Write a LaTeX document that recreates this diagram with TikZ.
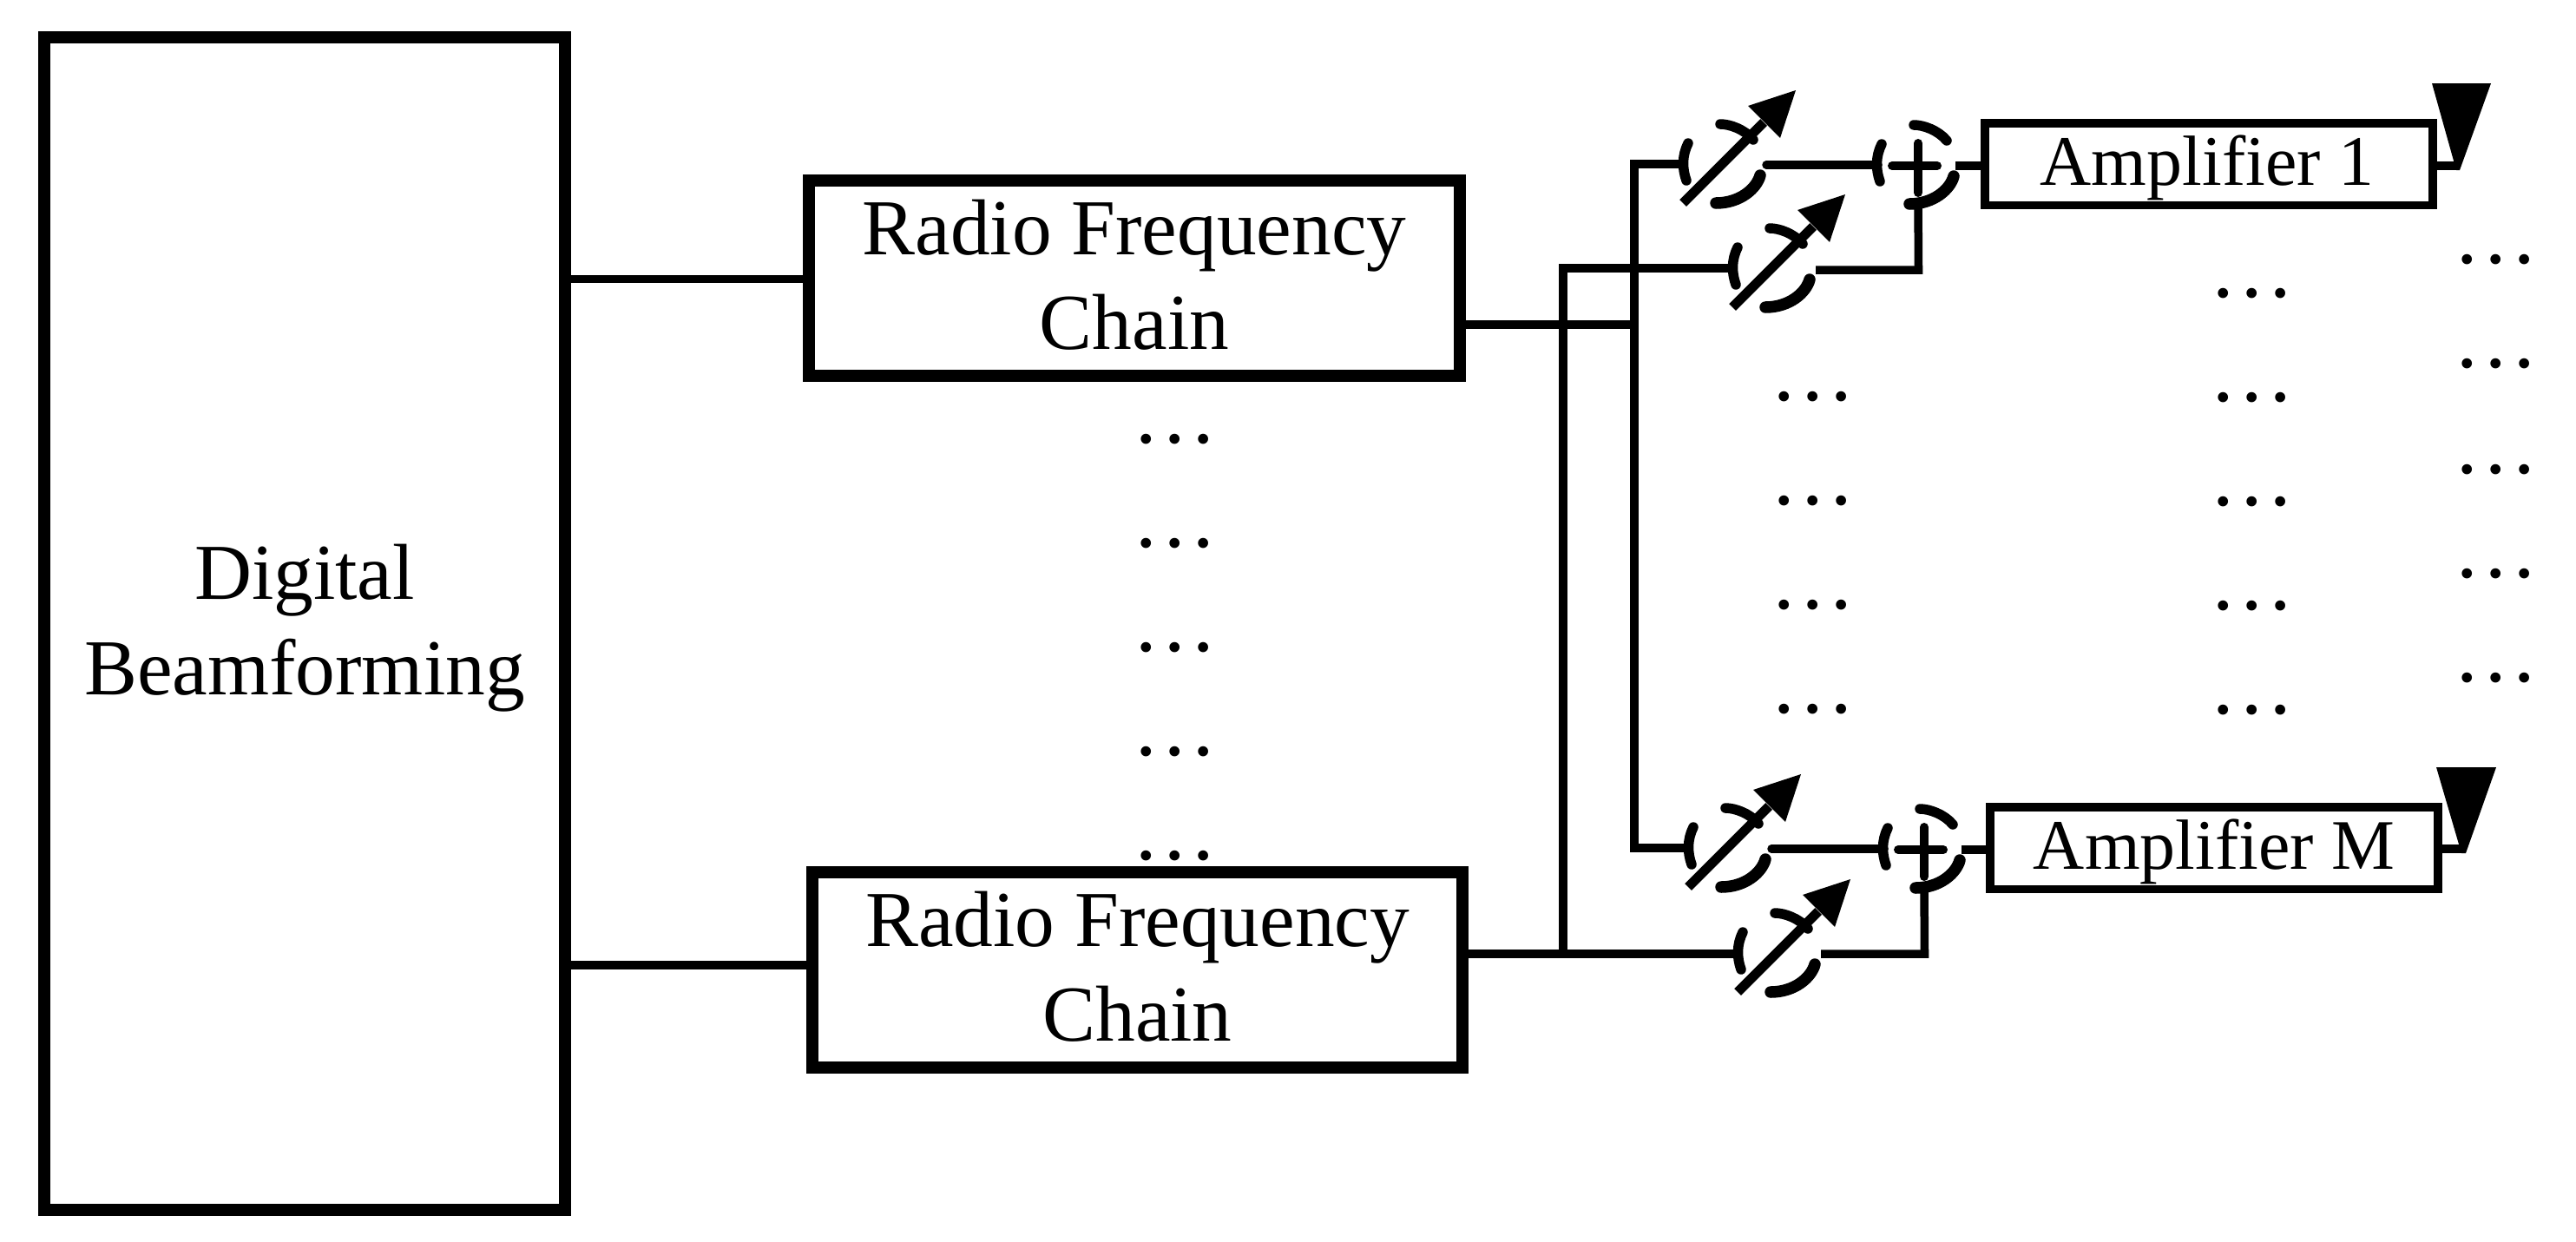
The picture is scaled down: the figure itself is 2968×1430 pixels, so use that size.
\documentclass[tikz,border=0pt]{standalone}
\usepackage{fontspec}
\setmainfont{Liberation Serif}
\tikzset{
  x=0.1mm,y=-0.1mm,
  wire/.style={line width=0.95mm,line cap=butt,line join=miter},
  bigbox/.style={draw,line width=1.4mm,rectangle,inner sep=0pt,outer sep=0pt,align=center,font=\fontsize{26}{31.2}\selectfont},
  ampbox/.style={draw,line width=0.95mm,rectangle,inner sep=0pt,outer sep=0pt,minimum width=51.6mm,minimum height=9.45mm,text height=6mm,text depth=1.2mm,font=\fontsize{23.3}{28}\selectfont},
  dots/.style={inner sep=0pt,outer sep=0pt,font=\fontsize{28}{28}\selectfont},
  pics/circ/.style={code={
    \draw[line width=1.15mm,line cap=round] (-42,-24) .. controls (-49,-10) and (-49,5) .. (-44,19);
    \draw[line width=1.15mm,line cap=round] (-5,-46) .. controls (6,-46) and (23,-40) .. (33,-28);
    \draw[line width=1.35mm,line cap=round] (41,13) .. controls (37,28) and (18,45) .. (-10,45);
  }},
  pics/shifter/.style={code={
    \pic (-c) {circ};
    \draw[line width=1.1mm] (-48,45) -- (45,-48);
    \fill (82,-85) -- (27,-67) -- (64,-30) -- cycle;
    \coordinate (-in) at (-46,0);
    \coordinate (-out) at (48,1);
  }},
  pics/adder/.style={code={
    \pic (-c) {circ};
    \draw[line width=1mm,line cap=round] (-30,1) -- (22,1);
    \draw[line width=1mm,line cap=round] (0,-25) -- (0,32);
    \coordinate (-in) at (-46,0);
    \coordinate (-out) at (43,1);
    \coordinate (-south) at (0,45);
  }}
}
\begin{document}
\begin{tikzpicture}
\useasboundingbox (0,0) rectangle (2968,1430);

\node[bigbox,minimum width=60mm,minimum height=135.1mm] (dbf) at (351,718.5) {\rule{0pt}{7.4mm}Digital\\Beamforming};
\node[bigbox,minimum width=75mm,minimum height=22.5mm] (rf1) at (1307,320.5) {Radio Frequency\\Chain\rule[-0.86mm]{0pt}{0pt}};
\node[bigbox,minimum width=74.9mm,minimum height=22.5mm] (rf2) at (1310.5,1117.5) {Radio Frequency\\Chain\rule[-0.86mm]{0pt}{0pt}};
\node[ampbox] (amp1) at (2545,189.25) {\hspace*{-0.4mm}Amplifier 1};
\node[ampbox] (ampm) at (2551,977) {Amplifier M};

\pic (p1) at (1987,189) {shifter};
\pic (p2) at (2044,309) {shifter};
\pic (p3) at (1993,977) {shifter};
\pic (p4) at (2050,1098) {shifter};
\pic (s1) at (2210,190) {adder};
\pic (s2) at (2217,978) {adder};

\coordinate (a1) at (2802,96);
\coordinate (a2) at (2870,96);
\coordinate (a3) at (2834,196);
\coordinate (a4) at (2830,196);
\coordinate (b1) at (2807,884);
\coordinate (b2) at (2876,884);
\coordinate (b3) at (2841,983);
\coordinate (b4) at (2836,983);
\fill (a1) -- (a2) -- (a3) -- (a4) -- cycle;
\fill (b1) -- (b2) -- (b3) -- (b4) -- cycle;

\coordinate (busAtop) at (1883,189);
\coordinate (busAmid) at (1883,374);
\coordinate (busAbot) at (1883,977);
\coordinate (busBtop) at (1801,309);
\coordinate (busBbot) at (1801,1099);
\coordinate (l1) at (0,321.5);
\coordinate (l2) at (0,1112);
\coordinate (t1) at (2834,191);
\coordinate (t2) at (2841,978);
\coordinate (c2) at (2210.5,311);
\coordinate (c4) at (2217.5,1099);

\draw[wire] (dbf.east |- l1) -- (rf1.west |- l1);
\draw[wire] (dbf.east |- l2) -- (rf2.west |- l2);
\draw[wire] (rf1.east |- busAmid) -- (busAmid);
\draw[wire] (p1-in) -- (busAtop) -- (busAbot) -- (p3-in);
\draw[wire] (rf2.east |- busBbot) -- (p4-in |- busBbot);
\draw[wire] (p2-in) -- (busBtop) -- (busBbot);
\draw[wire,line cap=round] (p1-out) -- (s1-in);
\draw[wire,line cap=round] (p3-out) -- (s2-in);
\draw[wire] (p2-out |- c2) -- (c2) -- (s1-south);
\draw[wire] (p4-out |- c4) -- (c4) -- (s2-south);
\draw[wire] (s1-out) -- (amp1.west |- s1-out);
\draw[wire] (s2-out) -- (ampm.west |- s2-out);
\draw[wire] (amp1.east |- t1) -- (t1);
\draw[wire] (ampm.east |- t2) -- (t2);

\foreach \nm/\px/\py in {a/1354/504.5,b/1354/624.5,c/1354/744.8,d/1354/864.8,e/1354/985,
  f/2089/455.5,g/2089/575.5,h/2089/695.5,i/2089/815.5,
  j/2595/336.5,k/2595/456.5,l/2595/576.5,m/2595/696.5,n/2595/816.5,
  o/2875.6/298.4,q/2875.6/418.4,r/2875.6/539.5,u/2875.6/659.5,v/2875.6/779.5}{
  \node[dots,anchor=base] (dot\nm) at (\px,\py+5.5) {…};
}
\end{tikzpicture}
\end{document}
